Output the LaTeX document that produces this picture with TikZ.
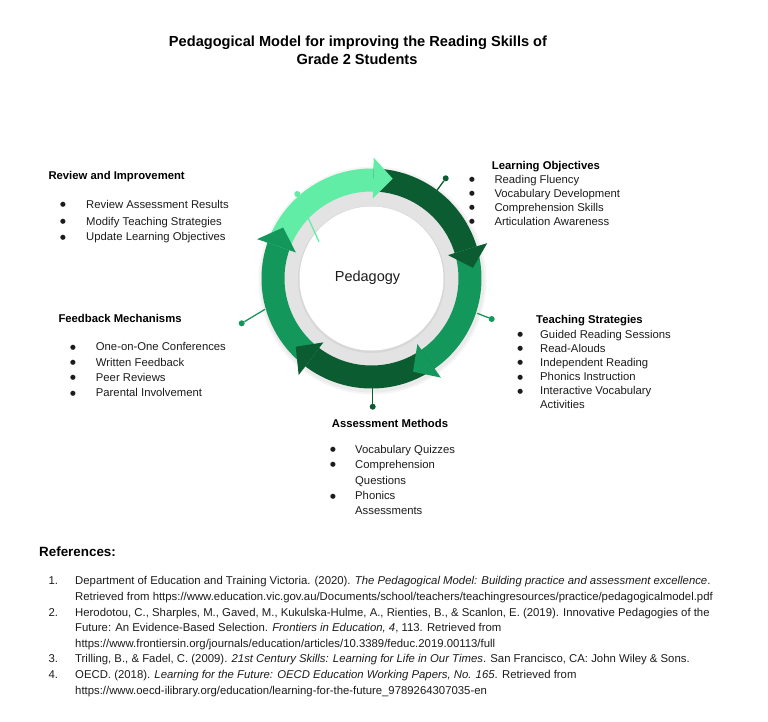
\documentclass[tikz,border=0pt]{standalone}
\usepackage{fontspec}
\setmainfont{Liberation Sans}
\newfontfamily\symfont{DejaVu Sans}
\usetikzlibrary{calc}
\definecolor{mint}{HTML}{62EDA6}
\definecolor{medg}{HTML}{14975A}
\definecolor{darkg}{HTML}{0B5C31}
\definecolor{ringgray}{HTML}{E3E3E3}
\definecolor{ink}{HTML}{1C1C1C}
\newcommand{\bulletrow}[2]{\makebox[0pt]{\raisebox{1.6pt}{\symfont\fontsize{6.6}{8}\selectfont ●}}\hspace{#1}#2}
\def\RingOut{110}
\def\RingIn{87}
\def\RingTip{102}
\def\HeadOut{121}
\def\HeadIn{80}
\newcommand{\ringbody}[3]{\fill[#1] (#2:\RingOut) arc[start angle=#2, end angle=#3, radius=\RingOut] -- (#3:\RingIn) arc[start angle=#3, end angle=#2, radius=\RingIn] -- cycle;}
\newcommand{\ringhead}[3]{\fill[#1] (#2:\HeadOut) -- (#3:\RingTip) -- (#2:\HeadIn) -- cycle;}
\begin{document}
\begin{tikzpicture}[x=1pt,y=-1pt,
  txt/.style={inner sep=0pt, anchor=base west, text=ink, font=\fontsize{11.3}{13}\selectfont},
  hd/.style={inner sep=0pt, anchor=base west, text=black, font=\fontsize{11.3}{13}\selectfont\bfseries},
  ref/.style={inner sep=0pt, anchor=base west, text=ink, font=\fontsize{11.35}{13}\selectfont},
  dot/.style={circle, inner sep=0pt, minimum size=6pt},
  conn/.style={line width=1.3pt}]
\useasboundingbox (0,0) rectangle (768,721);
\fill[white] (0,0) rectangle (768,721);

% title
\node[inner sep=0pt, anchor=base, font=\fontsize{14.6}{17}\selectfont\bfseries] (title1) at (358,46.7) {Pedagogical Model for improving the Reading Skills of};
\node[inner sep=0pt, anchor=base, font=\fontsize{14.6}{17}\selectfont\bfseries] (title2) at (357,64.3) {Grade 2 Students};

% ring background
\begin{scope}[shift={(371.5,278.5)}, x=1pt, y=1pt]
  \fill[black, opacity=0.04] (1,-2) circle[radius=114];
  \fill[black, opacity=0.04] (1,-2) circle[radius=112];
  \fill[ringgray] (0,0) circle[radius=91];
  \fill[black, opacity=0.05] (0,-1) circle[radius=73.5];
  \fill[white] (0,0) circle[radius=72];
\end{scope}

% connectors
\node[dot, fill=darkg] (dlo) at (445.7,178.3) {};
\coordinate (clo) at (436.7,190.7);
\draw[conn, darkg] (clo) -- (dlo);
\node[dot, fill=medg] (dts) at (491.7,319) {};
\coordinate (cts) at (477.3,313.3);
\draw[conn, medg] (cts) -- (dts);
\node[dot, fill=darkg] (dam) at (372.7,406.7) {};
\coordinate (cam) at (372.7,380);
\draw[conn, darkg] (cam) -- (dam);
\node[dot, fill=medg] (dfm) at (241.7,323.3) {};
\coordinate (cfm) at (265,309.3);
\draw[conn, medg] (cfm) -- (dfm);
\node[dot, fill=mint] (dri) at (297.3,194) {};
\coordinate (cri) at (319,241.7);
\draw[conn, mint] (dri) -- (cri);

% circular arrows
\begin{scope}[shift={(371.5,278.5)}, x=1pt, y=1pt]
  \ringbody{mint}{161}{89}
  \ringbody{darkg}{89}{17}
  \ringbody{medg}{17}{-55}
  \ringbody{darkg}{-55}{-127}
  \ringbody{medg}{-127}{-199}
  \ringhead{mint}{89}{78}
  \ringhead{darkg}{17}{6}
  \ringhead{medg}{-55}{-66}
  \ringhead{darkg}{-127}{-138}
  \ringhead{medg}{-199}{-210}
\end{scope}

\node[inner sep=0pt, anchor=base, text=ink, font=\fontsize{14.5}{16}\selectfont] (ped) at (367.5,281) {Pedagogy};

% Review and Improvement
\node[hd] (rvh) at (48.3,179.7) {Review and Improvement};
\node[txt] (rv1) at (62.7,208.3) {\bulletrow{23.3pt}{Review Assessment Results}};
\node[txt] (rv2) at (62.7,225) {\bulletrow{23.3pt}{Modify Teaching Strategies}};
\node[txt] (rv3) at (62.7,240.7) {\bulletrow{23.3pt}{Update Learning Objectives}};

% Learning Objectives
\node[hd] (loh) at (491.7,169) {Learning Objectives};
\node[txt] (lo1) at (471.7,183.3) {\bulletrow{22.6pt}{Reading Fluency}};
\node[txt] (lo2) at (471.7,197.3) {\bulletrow{22.6pt}{Vocabulary Development}};
\node[txt] (lo3) at (471.7,211.3) {\bulletrow{22.6pt}{Comprehension Skills}};
\node[txt] (lo4) at (471.7,225) {\bulletrow{22.6pt}{Articulation Awareness}};

% Teaching Strategies
\node[hd] (tsh) at (536,323) {Teaching Strategies};
\node[txt] (ts1) at (520,338) {\bulletrow{20pt}{Guided Reading Sessions}};
\node[txt] (ts2) at (520,352.3) {\bulletrow{20pt}{Read-Alouds}};
\node[txt] (ts3) at (520,366.3) {\bulletrow{20pt}{Independent Reading}};
\node[txt] (ts4) at (520,380.7) {\bulletrow{20pt}{Phonics Instruction}};
\node[txt] (ts5) at (520,394.7) {\bulletrow{20pt}{Interactive Vocabulary}};
\node[txt] (ts6) at (540,408.3) {Activities};

% Feedback Mechanisms
\node[hd] (fmh) at (58.3,322.3) {Feedback Mechanisms};
\node[txt] (fm1) at (72.7,350.7) {\bulletrow{23pt}{One-on-One Conferences}};
\node[txt] (fm2) at (72.7,366.3) {\bulletrow{23pt}{Written Feedback}};
\node[txt] (fm3) at (72.7,381.3) {\bulletrow{23pt}{Peer Reviews}};
\node[txt] (fm4) at (72.7,396.7) {\bulletrow{23pt}{Parental Involvement}};

% Assessment Methods
\node[hd] (amh) at (331.7,427.3) {Assessment Methods};
\node[txt] (am1) at (332.7,453.3) {\bulletrow{22.3pt}{Vocabulary Quizzes}};
\node[txt] (am2) at (332.7,468.3) {\bulletrow{22.3pt}{Comprehension}};
\node[txt] (am3) at (355,484) {Questions};
\node[txt] (am4) at (332.7,499.7) {\bulletrow{22.3pt}{Phonics}};
\node[txt] (am5) at (355,514) {Assessments};

% References
\node[inner sep=0pt, anchor=base west, font=\fontsize{13.4}{15}\selectfont\bfseries] (refh) at (39,556.5) {References:};
\node[ref] (n1) at (48.3,584.7) {1.};
\node[ref] (r1a) at (75,584.7) {Department of Education and Training Victoria. (2020). \textit{The Pedagogical Model: Building practice and assessment excellence}.};
\node[ref] (r1b) at (75,600.3) {Retrieved from https://www.education.vic.gov.au/Documents/school/teachers/teachingresources/practice/pedagogicalmodel.pdf};
\node[ref] (n2) at (48.3,616) {2.};
\node[ref] (r2a) at (75,616) {Herodotou, C., Sharples, M., Gaved, M., Kukulska-Hulme, A., Rienties, B., \& Scanlon, E. (2019). Innovative Pedagogies of the};
\node[ref] (r2b) at (75,631.6) {Future: An Evidence-Based Selection. \textit{Frontiers in Education, 4}, 113. Retrieved from};
\node[ref] (r2c) at (75,647.3) {https://www.frontiersin.org/journals/education/articles/10.3389/feduc.2019.00113/full};
\node[ref] (n3) at (48.3,662.9) {3.};
\node[ref] (r3a) at (75,662.9) {Trilling, B., \& Fadel, C. (2009). \textit{21st Century Skills: Learning for Life in Our Times}. San Francisco, CA: John Wiley \& Sons.};
\node[ref] (n4) at (48.3,678.6) {4.};
\node[ref] (r4a) at (75,678.6) {OECD. (2018). \textit{Learning for the Future: OECD Education Working Papers, No. 165}. Retrieved from};
\node[ref] (r4b) at (75,694.2) {https://www.oecd-ilibrary.org/education/learning-for-the-future\_9789264307035-en};
\end{tikzpicture}
\end{document}
